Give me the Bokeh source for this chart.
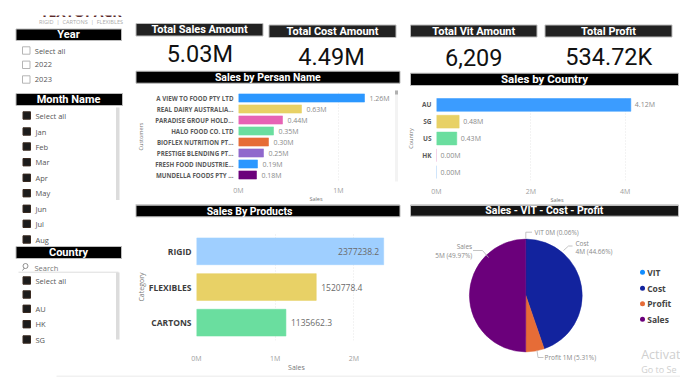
import math
from bokeh.embed import file_html
from bokeh.resources import INLINE
from bokeh.plotting import figure
from bokeh.models import Column, ColumnDataSource, FactorRange, FixedTicker, Range1d
from bokeh.core.properties import value

# ---------- data ----------
kpi_titles = ["Total Sales Amount", "Total Cost Amount", "Total Vit Amount", "Total Profit"]
kpi_values = ["5.03M", "4.49M", "6,209", "534.72K"]

customers = ["A VIEW TO FOOD PTY LTD", "REAL DAIRY AUSTRALIA...", "PARADISE GROUP HOLD...", "HALO FOOD CO. LTD",
             "BIOFLEX NUTRITION PT...", "PRESTIGE BLENDING PT...", "FRESH FOOD INDUSTRIE...", "MUNDELLA FOODS PTY ..."]
customer_sales = [1.26, 0.63, 0.44, 0.35, 0.30, 0.25, 0.19, 0.18]
customer_colors = ["#2b97ff", "#E8D166", "#E663B5", "#6ADE9F", "#E66C37", "#9068CC", "#2b97ff", "#6B007B"]

countries = ["AU", "SG", "US", "HK", " "]
country_sales = [4.12, 0.48, 0.43, 0.00, 0.00]
country_colors = ["#3b9cff", "#E8D166", "#6ADE9F", "#E9A3CF", "#9cc8f5"]

products = ["RIGID", "FLEXIBLES", "CARTONS"]
product_sales = [2377238.2, 1520778.4, 1135662.3]
product_colors = ["#9FCFFF", "#E8D166", "#6ADE9F"]

pie_names = ["VIT", "Cost", "Profit", "Sales"]
pie_share = [0.06, 44.66, 5.31, 49.97]
pie_colors = ["#118DFF", "#12239E", "#E66C37", "#6B007B"]

years = ["Select all", "2022", "2023"]
months = ["Select all", "Jan", "Feb", "Mar", "Apr", "May", "Jun", "Jul", "Aug"]
slicer_countries = ["Select all", "", "AU", "HK", "SG"]

FONT = "Open Sans"
COND = "Roboto"
KPI = "Roboto"
GREY = "#8a8a8a"


def place(fig, left, top):
    fig.styles = {"position": "absolute", "left": f"{left}px", "top": f"{top}px"}
    return fig


def bare(width, height, xr, yr):
    f = figure(frame_width=width, frame_height=height, x_range=xr, y_range=yr, toolbar_location=None,
               output_backend="svg", x_axis_location=None, y_axis_location=None, frame_align=False,
               min_border=0, min_border_left=0, min_border_right=0, min_border_top=0, min_border_bottom=0,
               outline_line_color=None, background_fill_alpha=0, border_fill_alpha=0)
    f.grid.visible = False
    return f


# ---------- page canvas (pixel coordinates) ----------
bg = bare(680, 377, Range1d(0, 680), Range1d(377, 0))
bg.background_fill_color = "white"
bg.background_fill_alpha = 1


def label(f, x, y, s, size, color="#555555", style="normal", font=FONT, align="left"):
    f.text([x], [y], text=[s], text_font=value(font), text_font_size=f"{size}px",
           text_color=color, text_font_style=style, text_align=align, text_baseline="middle")


def header(x0, x1, y0, y1, s, cx, size, fill="#000000"):
    bg.quad(left=[x0], right=[x1], top=[y0], bottom=[y1], fill_color=fill,
            line_color="#bdbdbd", line_width=1)
    label(bg, cx, (y0 + y1) / 2, s, size, "#ffffff", "bold", COND, "center")


# bottom strip and chart separators
bg.quad(left=[56], right=[680], top=[375], bottom=[377], fill_color="#f1f1f1", line_color=None)
bg.segment([135, 410], [204, 204], [399, 678], [204, 204], line_color="#d4d4d4", line_width=1)

# logo (only the foot of its lettering is on the page)
label(bg, 80.5, 11.4, "TEXTOPACK", 14, "#5a2a2a", "bold", FONT, "center")
bg.quad(left=[25], right=[135], top=[0], bottom=[15], fill_color="white", line_color=None)
NB = "\u00a0\u00a0"
label(bg, 80.5, 21, f"RIGID{NB}|{NB}CARTONS{NB}|{NB}FLEXIBLES", 5.6, "#ababab", "normal", FONT, "center")

# slicers
header(15.5, 121, 28.5, 40, "Year", 68, 11)
for s, y in zip(years, [50, 64.3, 79]):
    bg.quad(left=[22], right=[29.5], top=[y - 3.7], bottom=[y + 3.7], fill_color="white", line_color="#b5b5b5")
    label(bg, 34.3, y, s, 7.5)

header(15.5, 122, 93, 105, "Month Name", 68, 11)
bg.quad(left=[115.5], right=[119], top=[107], bottom=[199.5], fill_color="#dcdcdc", line_color=None)
for s, y in zip(months, [115, 131, 146, 161.7, 177.3, 192.7, 208.3, 223.3, 239]):
    bg.quad(left=[22.5], right=[30], top=[y - 3.7], bottom=[y + 3.7], fill_color="#1c1c1c", line_color="#3a2a20")
    label(bg, 35, y, s, 7.5)

header(15.5, 121, 246, 258, "Country", 68, 11)
bg.scatter([25], [265.5], size=5, marker="circle", fill_color=None, line_color="#777777", line_width=0.8)
bg.segment([22], [270], [24], [267.5], line_color="#777777", line_width=0.8)
label(bg, 34, 267, "Search", 7.5, "#777777")
bg.segment([18], [271.7], [118], [271.7], line_color="#dddddd", line_width=1)
bg.quad(left=[115.5], right=[119], top=[272], bottom=[339], fill_color="#dcdcdc", line_color=None)
for s, y in zip(slicer_countries, [280, 294, 308.3, 323.7, 339]):
    bg.quad(left=[22.5], right=[30], top=[y - 3.7], bottom=[y + 3.7], fill_color="#1c1c1c", line_color="#3a2a20")
    if s:
        label(bg, 35, y, s, 7.5)

# KPI cards
kpi_boxes = [(135.5, 262.5, 23, 35.5), (268.5, 395.5, 24.5, 37), (410, 536.5, 24.5, 36.5), (544.5, 671.5, 24.5, 36.5)]
kpi_centres = [(199.3, 53.3), (331, 56.7), (473.3, 57.3), (608.3, 56)]
for t, v, (x0, x1, y0, y1), (cx, cy) in zip(kpi_titles, kpi_values, kpi_boxes, kpi_centres):
    header(x0, x1, y0, y1, t, (x0 + x1) / 2, 11, "#222222")
    label(bg, cx, cy, v, 23.5, "#111111", "normal", KPI, "center")

# chart headers
header(135.5, 399.5, 70.7, 82.7, "Sales by Persan Name", 267.3, 10.5)
header(410, 678, 72.7, 85, "Sales by Country", 544, 11.5)
header(135.5, 399.5, 204.7, 216.3, "Sales By Products", 249, 10.5)
header(410, 678, 205, 215.7, "Sales - VIT - Cost - Profit", 544, 10.5, "#151515")


# ---------- bar charts ----------
def bar_chart(left, top, fw, fh, ml, mt, cats, vals, cols, xmax, ticks, overrides, bar_h,
              ytitle, cat_size, cat_color, tick_size, title_size, ystand, xstand, tstand):
    f = figure(frame_width=fw, frame_height=fh, y_range=FactorRange(factors=cats[::-1]),
               x_range=Range1d(0, xmax), toolbar_location=None, output_backend="svg", frame_align=False,
               min_border_left=ml, min_border_top=mt, min_border_right=0, min_border_bottom=0,
               outline_line_color=None, background_fill_alpha=0, border_fill_alpha=0)
    src = ColumnDataSource(dict(c=cats, v=vals, col=cols, lab=[f"{v:.2f}M" for v in vals]))
    f.hbar(y="c", right="v", left=0, height=bar_h, fill_color="col", line_color="col",
           line_alpha=0.55, line_width=1, source=src)
    f.ygrid.visible = False
    f.xgrid.grid_line_color = "#e6e6e6"
    f.xgrid.grid_line_dash = "1 2"
    f.xgrid.ticker = FixedTicker(ticks=ticks)
    f.xaxis.ticker = FixedTicker(ticks=ticks)
    f.xaxis.major_label_overrides = overrides
    f.xaxis.axis_label = "Sales"
    f.yaxis.axis_label = ytitle
    for a in (f.xaxis[0], f.yaxis[0]):
        a.axis_line_color = None
        a.major_tick_line_color = None
        a.minor_tick_line_color = None
        a.major_tick_in = 0
        a.major_tick_out = 0
        a.minor_tick_in = 0
        a.minor_tick_out = 0
        a.axis_label_text_font = FONT
        a.axis_label_text_font_style = "normal"
        a.axis_label_text_color = "#777777"
        a.axis_label_text_font_size = f"{title_size}px"
        a.major_label_text_font = FONT
    f.xaxis.major_label_text_font_size = f"{tick_size}px"
    f.xaxis.major_label_text_color = "#a0a0a0"
    f.xaxis.major_label_standoff = xstand
    f.xaxis.axis_label_standoff = tstand
    f.yaxis.major_label_text_font_size = f"{cat_size}px"
    f.yaxis.major_label_text_font_style = "bold"
    f.yaxis.major_label_text_color = cat_color
    f.yaxis.major_label_standoff = 5
    f.yaxis.axis_label_standoff = ystand
    return place(f, left, top), src


c1, s1 = bar_chart(118, 88, 155, 88, 120, 4, customers, customer_sales, customer_colors,
                   1.55, [0, 1], {0: "0M", 1: "1M"}, 0.74, "Customers", 6.2, "#5a5a5a", 7, 5.5, 7, 5, -3)
c1.text(x="v", y="c", text="lab", source=s1, x_offset=5,
        text_font=value(FONT), text_font_size="7px", text_color=GREY, text_baseline="middle")
# scrollbar of the visual
bg.quad(left=[394.5], right=[397.5], top=[90], bottom=[181], fill_color="#f3f3f3", line_color=None)
bg.quad(left=[394.5], right=[397.5], top=[90], bottom=[94], fill_color="#b0b0b0", line_color=None)

c2, s2 = bar_chart(396, 92, 241, 84, 40, 4, countries, country_sales, country_colors,
                   5.11, [0, 2, 4], {0: "0M", 2: "2M", 4: "4M"}, 0.76, "Country", 6.5, "#5a5a5a", 7, 5.5, 4, 6, -3)
c2.text(x="v", y="c", text="lab", source=s2, x_offset=4,
        text_font=value(FONT), text_font_size="7px", text_color=GREY, text_baseline="middle")

c3, s3 = bar_chart(116, 222, 200, 107, 80, 11, products, product_sales, product_colors,
                   2.54e6, [0, 1e6, 2e6], {0: "0M", 1000000: "1M", 2000000: "2M"}, 0.75, "Category",
                   8.5, "#3c3c3c", 7, 7, 0, 13, -3)
for i in range(len(products)):
    inside = i == 0
    c3.text(x=[product_sales[i]], y=[products[i]], text=[f"{product_sales[i]:.1f}"],
            x_offset=-4.5 if inside else 5, text_align="right" if inside else "left",
            text_font=value(FONT), text_font_size="8.5px", text_color="#6a6a6a", text_baseline="middle")


# ---------- pie ----------
CX, CY = 525.3, 295.0
pie = bare(275, 159, Range1d(405 - CX, 680 - CX), Range1d(CY - 377, CY - 218))
place(pie, 405, 218)
X = lambda px: px - CX
Y = lambda py: CY - py
cum = 0.0
starts, ends = [], []
for sh in pie_share:
    starts.append(math.pi / 2 - cum / 100 * 2 * math.pi)
    cum += sh
    ends.append(math.pi / 2 - cum / 100 * 2 * math.pi)
pie.wedge(x=[0] * 4, y=[0] * 4, radius=56.4, radius_units="screen", start_angle=starts, end_angle=ends,
          direction="clock", fill_color=pie_colors, line_color=pie_colors, line_width=0.5)

for xs, ys in [([525.3, 525.3, 531.5], [238, 231.7, 231.7]),
               ([472.5, 482, 488], [250, 250, 257]),
               ([563, 568, 572], [250, 245.5, 245.5]),
               ([536.5, 537.5, 543], [350, 357, 357])]:
    pie.line([X(a) for a in xs], [Y(b) for b in ys], line_color="#b5b5b5", line_width=0.8)

for x, y, s, al in [(534, 231.7, "VIT 0M (0.06%)", "left"),
                    (471.7, 246.3, "Sales", "right"),
                    (471.7, 254.5, "5M (49.97%)", "right"),
                    (575, 242.7, "Cost", "left"),
                    (575, 251, "4M (44.66%)", "left"),
                    (544, 357, "Profit 1M (5.31%)", "left")]:
    label(pie, X(x), Y(y), s, 6.5, GREY, align=al)

for name, col, y in zip(pie_names, pie_colors, [271.7, 287.7, 303.3, 318.7]):
    pie.scatter([X(642)], [Y(y)], size=5, marker="circle", fill_color=col, line_color=None)
    label(pie, X(646.7), Y(y), name, 8.5, "#444444", "bold")

label(pie, X(640.7), Y(354), "Activat", 12.5, "#cfcfcf")
label(pie, X(640.7), Y(369), "Go to Se", 9, "#cfcfcf")

root = Column(children=[bg, c1, c2, c3, pie], width=680, height=377, spacing=0,
              styles={"position": "absolute", "left": "0px", "top": "0px"})
open("out.html", "w").write(file_html(root, INLINE))
